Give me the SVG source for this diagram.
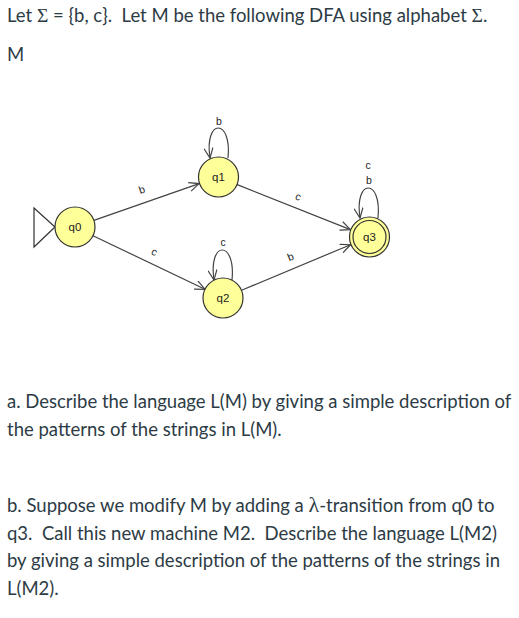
<svg xmlns="http://www.w3.org/2000/svg" width="519" height="618" viewBox="0 0 519 618">
<style>
.t{font-family:Lato,"Open Sans",sans-serif;font-size:18.5px;fill:#2d3b45;white-space:pre}
.s{font-family:"Liberation Serif",serif}
.st{fill:#ffff99;stroke:#333;stroke-width:1.2}
.lb{font-family:"Liberation Sans",Arial,sans-serif;font-size:10.5px;fill:#222;text-anchor:middle}
.nl{font-size:11.5px}
.e{fill:none;stroke:#444;stroke-width:1.2}
</style>
<defs>
<marker id="a" viewBox="0 0 12 10" refX="11" refY="5" markerWidth="12" markerHeight="10" markerUnits="userSpaceOnUse" orient="auto">
<path d="M1,0.5 L11,5 L1,9.5" fill="none" stroke="#444" stroke-width="1.2"/>
</marker>
</defs>
<rect width="519" height="618" fill="#fff"/>
<text class="t" x="7" y="22">Let <tspan class="s" font-size="19.5">Σ</tspan> = {b, c}.  Let M be the following DFA using alphabet <tspan class="s" font-size="19.5">Σ</tspan>.</text>
<text class="t" x="7" y="61">M</text>

<g id="connectors">
<path class="e" marker-end="url(#a)" d="M93.9,220.4 L199.1,183.6"/>
<path class="e" marker-end="url(#a)" d="M93,235.7 L205,289.3"/>
<path class="e" marker-end="url(#a)" d="M236.6,184.4 L350.4,229.6"/>
<path class="e" marker-end="url(#a)" d="M241.5,290.3 L350.5,244.7"/>
<path class="e" marker-end="url(#a)" d="M228,158 C232,118 204,118 210,158"/>
<path class="e" marker-end="url(#a)" d="M232,280 C236,240 208,240 214,280"/>
<path class="e" marker-end="url(#a)" d="M378,218 C382,178 354,178 360,218"/>
<text class="lb" transform="translate(143,193) rotate(-19)">b</text>
<text class="lb" transform="translate(153,255) rotate(25)">c</text>
<text class="lb" transform="translate(297,200) rotate(22)">c</text>
<text class="lb" transform="translate(292,260) rotate(-23)">b</text>
<text class="lb" x="219" y="125">b</text>
<text class="lb" x="223" y="246">c</text>
<text class="lb" x="368" y="169">c</text>
<text class="lb" x="369" y="184">b</text>
</g>

<g id="q0">
<path d="M34,208 L55,227 L34,247 Z" fill="none" stroke="#333" stroke-width="1.2"/>
<circle class="st" cx="75" cy="227" r="20"/>
<text class="lb nl" x="75" y="231">q0</text>
</g>
<g id="q1">
<circle class="st" cx="218.5" cy="177" r="20"/>
<text class="lb nl" x="218.5" y="181">q1</text>
</g>
<g id="q2">
<circle class="st" cx="223" cy="298" r="20"/>
<text class="lb nl" x="223" y="302">q2</text>
</g>
<g id="q3">
<circle class="st" cx="369.5" cy="237" r="20"/>
<circle class="st" cx="369.5" cy="237" r="16.5"/>
<text class="lb nl" x="369.5" y="241">q3</text>
</g>

<text class="t" x="7" y="408">a. Describe the language L(M) by giving a simple description of</text>
<text class="t" x="7" y="436">the patterns of the strings in L(M).</text>
<text class="t" x="7" y="512">b. Suppose we modify M by adding a <tspan class="s" font-size="22">λ</tspan>-transition from q0 to</text>
<text class="t" x="7" y="540">q3.  Call this new machine M2.  Describe the language L(M2)</text>
<text class="t" x="7" y="567">by giving a simple description of the patterns of the strings in</text>
<text class="t" x="7" y="595">L(M2).</text>
</svg>
